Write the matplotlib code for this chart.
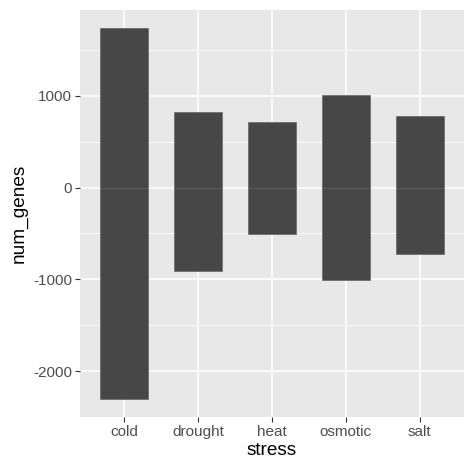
import matplotlib
matplotlib.use("Agg")
import matplotlib.pyplot as plt
import numpy as np

# data
stress = ["cold", "drought", "heat", "osmotic", "salt"]
up_genes = [1735, 822, 713, 1010, 783]
down_genes = [-2301, -910, -504, -1008, -725]

plt.rcParams['font.family'] = ['Liberation Sans', 'DejaVu Sans']
plt.rcParams['axes.unicode_minus'] = False

fig = plt.figure(figsize=(4.74, 4.74), dpi=100)
ax = fig.add_axes([80 / 474, (474 - 417.3) / 474, 384 / 474, 407.6 / 474])
ax.set_facecolor("#E8E8E8")

x = np.arange(1, len(stress) + 1)
ax.bar(x, up_genes, width=0.65, color="#474747", edgecolor="#5a5a5a", linewidth=0.4, zorder=3)
ax.bar(x, down_genes, width=0.65, color="#474747", edgecolor="#5a5a5a", linewidth=0.4, zorder=3)

lo = min(down_genes)
hi = max(up_genes)
pad = (hi - lo) * 0.05
ax.set_ylim(lo - pad, hi + pad)
ax.set_xlim(0.4, len(stress) + 0.6)

ax.set_xticks(x)
ax.set_xticklabels(stress)
ax.set_yticks([-2000, -1000, 0, 1000])
ax.set_yticks([-1500, -500, 500, 1500], minor=True)

ax.grid(which="major", color="white", linewidth=1.1, zorder=0)
ax.grid(which="minor", axis="y", color="white", linewidth=0.55, zorder=0)
ax.set_axisbelow(True)

for s in ax.spines.values():
    s.set_visible(False)

ax.tick_params(axis="both", which="major", length=3.5, width=0.8, color="#333333",
               labelcolor="#4D4D4D", labelsize=11, pad=2)
ax.tick_params(axis="both", which="minor", length=0)

ax.set_xlabel("stress", fontsize=13.7, labelpad=2)
ax.set_ylabel("num_genes", fontsize=13.7, labelpad=4)

fig.savefig("out.png", dpi=100)
